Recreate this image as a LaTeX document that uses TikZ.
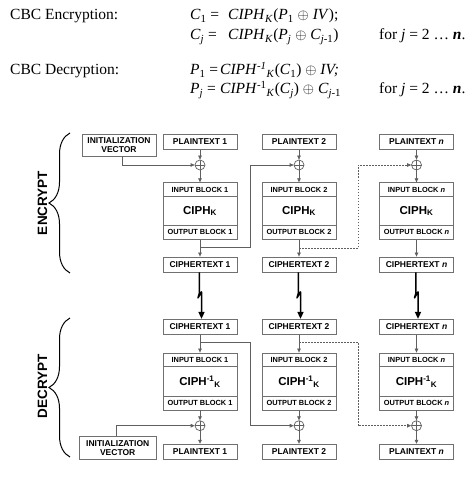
\documentclass[tikz,border=0pt]{standalone}
\usepackage{fontspec}
\setmainfont{Liberation Serif}
\setsansfont{Liberation Sans}
\usetikzlibrary{arrows.meta,decorations.pathreplacing,calc}
\definecolor{ln}{RGB}{95,95,95}
\definecolor{bd}{RGB}{112,112,112}
\begin{document}
\begin{tikzpicture}[x=1pt,y=-1pt,
  hdr/.style={anchor=base west,inner sep=0,font=\fontsize{15.5}{18}\selectfont},
  box/.style={draw=bd,line width=0.8pt,minimum width=74pt,minimum height=15pt,inner sep=0,font=\sffamily\bfseries\fontsize{8.5}{10}\selectfont},
  ivbox/.style={box,minimum height=22pt,align=center,font=\sffamily\bfseries\fontsize{8.5}{9.5}\selectfont},
  blk/.style={draw=bd,line width=0.8pt,minimum width=74pt,minimum height=56.5pt,inner sep=0},
  rowbox/.style={draw=bd,line width=0.8pt,minimum width=74pt,minimum height=13.8pt,inner sep=0,font=\sffamily\bfseries\fontsize{7.4}{8}\selectfont},
  ciph/.style={inner sep=0,font=\sffamily\bfseries\fontsize{11.5}{13}\selectfont},
  xor/.style={circle,draw=ln,line width=0.7pt,minimum size=10pt,inner sep=0,
    path picture={\draw[ln,line width=0.6pt] (path picture bounding box.north) -- (path picture bounding box.south) (path picture bounding box.west) -- (path picture bounding box.east);}},
  conn/.style={draw=ln,line width=0.7pt,-{Triangle[length=4pt,width=3.5pt]}},
  dconn/.style={conn,dash pattern=on 1.5pt off 1.5pt},
  bolt/.style={draw=black,line width=1.5pt,line join=round,-{Triangle[length=7pt,width=6pt]}},
  brc/.style={draw=black,decorate,decoration={brace,amplitude=21pt},line width=1pt},
  side/.style={rotate=90,inner sep=0,font=\sffamily\bfseries\fontsize{13.5}{15}\selectfont}
]
\fill[white] (0,0) rectangle (474,481);
\useasboundingbox (0,0) rectangle (474,481);

% ---------- header ----------
\node[hdr] (h1) at (10,20) {CBC Encryption:};
\node[hdr] (ea1) at (190,20) {\textit{C}\textsubscript{1} =};
\node[hdr] (eb1) at (228,20) {\textit{CIPH}\textsubscript{\textit{K}}(\textit{P}\textsubscript{1} $\oplus$ \textit{IV});};
\node[hdr] (ea2) at (190,40) {\textit{C}\textsubscript{\textit{j}} =};
\node[hdr] (eb2) at (228,40) {\textit{CIPH}\textsubscript{\textit{K}}(\textit{P}\textsubscript{\textit{j}} $\oplus$ \textit{C}\textsubscript{\textit{j}-1})};
\node[hdr] (ec2) at (379,40) {for \textit{j} = 2 … \textbf{\textit{n}}.};
\node[hdr] (h2) at (10,75) {CBC Decryption:};
\node[hdr] (da1) at (190,75) {\textit{P}\textsubscript{1} =};
\node[hdr] (db1) at (220,75) {\textit{CIPH}\textsuperscript{\textit{-1}}\textsubscript{\textit{K}}(\textit{C}\textsubscript{1}) $\oplus$ \textit{IV;}};
\node[hdr] (da2) at (190,94) {\textit{P}\textsubscript{\textit{j}} =};
\node[hdr] (db2) at (220,94) {\textit{CIPH}\textsuperscript{-1}\textsubscript{\textit{K}}(\textit{C}\textsubscript{\textit{j}}) $\oplus$ \textit{C}\textsubscript{\textit{j}-1}};
\node[hdr] (dc2) at (379,94) {for \textit{j} = 2 … \textbf{\textit{n}}.};

% ---------- columns ----------
\foreach \i/\cx/\lab in {1/200/1, 2/299/2, 3/416.5/{\textit{n}}} {
  % encrypt
  \node[box] (p\i) at (\cx,142) {PLAINTEXT \lab};
  \node[xor] (x\i) at (\cx,165) {};
  \node[blk] (e\i) at (\cx,211) {};
  \node[rowbox,anchor=north] (ei\i) at (e\i.north) {INPUT BLOCK \lab};
  \node[rowbox,anchor=south] (eo\i) at (e\i.south) {OUTPUT BLOCK \lab};
  \node[ciph] (ek\i) at ($(ei\i.south)!0.5!(eo\i.north)$) {CIPH\textsubscript{K}};
  \node[box] (c\i) at (\cx,264.5) {CIPHERTEXT \lab};
  \draw[conn] (p\i) -- (x\i);
  \draw[conn] (x\i) -- (e\i);
  \draw[conn] (e\i) -- (c\i);
  % decrypt
  \node[box] (dc\i) at (\cx,326.8) {CIPHERTEXT \lab};
  \node[blk,minimum height=57pt] (d\i) at (\cx,381.5) {};
  \node[rowbox,anchor=north] (di\i) at (d\i.north) {INPUT BLOCK \lab};
  \node[rowbox,anchor=south] (do\i) at (d\i.south) {OUTPUT BLOCK \lab};
  \node[ciph] (dk\i) at ($(di\i.south)!0.5!(do\i.north)$) {CIPH\textsuperscript{-1}\textsubscript{K}};
  \node[xor] (dx\i) at (\cx,425.7) {};
  \node[box] (dp\i) at (\cx,451.7) {PLAINTEXT \lab};
  \draw[conn] (dc\i) -- (d\i);
  \draw[conn] (d\i) -- (dx\i);
  \draw[conn] (dx\i) -- (dp\i);
  % lightning transfer
  \draw[bolt] ($(c\i.south)+(-0.7,0)$) -- ++(0,21) -- ++(-1.3,4.5) -- ++(3.5,-6) -- ($(dc\i.north)+(1.5,0)$);
}

% ---------- IV boxes ----------
\node[ivbox] (iv) at (119,145) {INITIALIZATION\\VECTOR};
\draw[conn] ($(iv.south)+(3,0)$) |- (x1.west);
\node[ivbox,minimum width=77pt,minimum height=23pt] (ivd) at (117.7,448.3) {INITIALIZATION\\VECTOR};
\draw[conn] ($(ivd.north)+(-1.7,0)$) |- (dx1.west);

% ---------- chaining ----------
\coordinate (f1) at (200,247.5);
\coordinate (f2) at (299,248);
\draw[conn] (f1) -- ++(50,0) |- (x2.west);
\draw[dconn] (f2) -- ++(59,0) |- (x3.west);
\coordinate (g1) at (200,342);
\coordinate (g2) at (299,342);
\draw[conn] (g1) -- ++(50,0) |- (dx2.west);
\draw[dconn] (g2) -- ++(59,0) |- (dx3.west);

% ---------- braces ----------
\draw[brc] (70,273) -- (70,133);
\node[side] (enc) at (42.5,203) {ENCRYPT};
\draw[brc] (70,457) -- (70,318);
\node[side] (dec) at (42.5,386) {DECRYPT};
\end{tikzpicture}
\end{document}
